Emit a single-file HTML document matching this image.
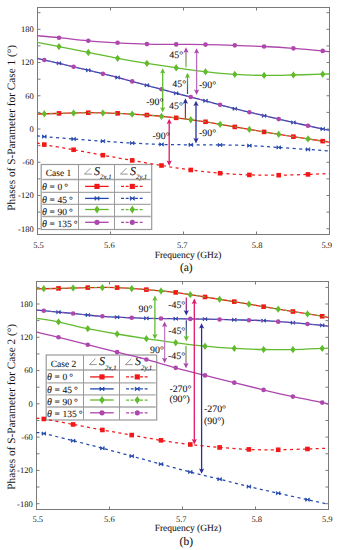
<!DOCTYPE html>
<html><head><meta charset="utf-8"><style>
html,body{margin:0;padding:0;background:#fff;width:337px;height:550px;overflow:hidden}
svg{display:block}
text{font-family:"Liberation Serif",serif;text-rendering:geometricPrecision;stroke:#222;stroke-width:0.08px}
</style></head><body>
<svg width="337" height="550" viewBox="0 0 337 550">
<rect width="337" height="550" fill="#fff"/>
<rect x="37.50" y="7.50" width="292.00" height="227.00" fill="none" stroke="#7a7a7a" stroke-width="1"/>
<path d="M37.50,12.68 h3 M329.50,12.68 h-3" stroke="#7a7a7a" stroke-width="1"/>
<path d="M37.50,29.30 h3 M329.50,29.30 h-3" stroke="#7a7a7a" stroke-width="1"/>
<text x="33.70" y="32.20" font-size="8.50" text-anchor="end" fill="#111" style="stroke:none">180</text>
<path d="M37.50,45.92 h3 M329.50,45.92 h-3" stroke="#7a7a7a" stroke-width="1"/>
<path d="M37.50,62.54 h3 M329.50,62.54 h-3" stroke="#7a7a7a" stroke-width="1"/>
<text x="33.70" y="65.44" font-size="8.50" text-anchor="end" fill="#111" style="stroke:none">120</text>
<path d="M37.50,79.16 h3 M329.50,79.16 h-3" stroke="#7a7a7a" stroke-width="1"/>
<path d="M37.50,95.78 h3 M329.50,95.78 h-3" stroke="#7a7a7a" stroke-width="1"/>
<text x="33.70" y="98.68" font-size="8.50" text-anchor="end" fill="#111" style="stroke:none">60</text>
<path d="M37.50,112.40 h3 M329.50,112.40 h-3" stroke="#7a7a7a" stroke-width="1"/>
<path d="M37.50,129.02 h3 M329.50,129.02 h-3" stroke="#7a7a7a" stroke-width="1"/>
<text x="33.70" y="131.92" font-size="8.50" text-anchor="end" fill="#111" style="stroke:none">0</text>
<path d="M37.50,145.64 h3 M329.50,145.64 h-3" stroke="#7a7a7a" stroke-width="1"/>
<path d="M37.50,162.26 h3 M329.50,162.26 h-3" stroke="#7a7a7a" stroke-width="1"/>
<text x="33.70" y="165.16" font-size="8.50" text-anchor="end" fill="#111" style="stroke:none">-60</text>
<path d="M37.50,178.88 h3 M329.50,178.88 h-3" stroke="#7a7a7a" stroke-width="1"/>
<path d="M37.50,195.50 h3 M329.50,195.50 h-3" stroke="#7a7a7a" stroke-width="1"/>
<text x="33.70" y="198.40" font-size="8.50" text-anchor="end" fill="#111" style="stroke:none">-120</text>
<path d="M37.50,212.12 h3 M329.50,212.12 h-3" stroke="#7a7a7a" stroke-width="1"/>
<path d="M37.50,228.74 h3 M329.50,228.74 h-3" stroke="#7a7a7a" stroke-width="1"/>
<text x="33.70" y="231.64" font-size="8.50" text-anchor="end" fill="#111" style="stroke:none">-180</text>
<path d="M37.50,234.50 v-3 M37.50,7.50 v3" stroke="#7a7a7a" stroke-width="1"/>
<text x="38.50" y="248.10" font-size="8.50" text-anchor="middle" fill="#111" style="stroke:none">5.5</text>
<path d="M110.50,234.50 v-3 M110.50,7.50 v3" stroke="#7a7a7a" stroke-width="1"/>
<text x="109.40" y="248.10" font-size="8.50" text-anchor="middle" fill="#111" style="stroke:none">5.6</text>
<path d="M183.50,234.50 v-3 M183.50,7.50 v3" stroke="#7a7a7a" stroke-width="1"/>
<text x="182.20" y="248.10" font-size="8.50" text-anchor="middle" fill="#111" style="stroke:none">5.7</text>
<path d="M256.50,234.50 v-3 M256.50,7.50 v3" stroke="#7a7a7a" stroke-width="1"/>
<text x="257.10" y="248.10" font-size="8.50" text-anchor="middle" fill="#111" style="stroke:none">5.8</text>
<path d="M329.50,234.50 v-3 M329.50,7.50 v3" stroke="#7a7a7a" stroke-width="1"/>
<text x="326.70" y="248.10" font-size="8.50" text-anchor="middle" fill="#111" style="stroke:none">5.9</text>
<rect x="41.20" y="164.50" width="110.50" height="65.00" fill="#fff" stroke="#999" stroke-width="1.2"/>
<path d="M42.20,179.50 H150.70" stroke="#a8a8a8" stroke-width="1.3"/>
<path d="M42.20,192.30 H150.70" stroke="#a8a8a8" stroke-width="1.3"/>
<path d="M42.20,204.40 H150.70" stroke="#a8a8a8" stroke-width="1.3"/>
<path d="M42.20,216.50 H150.70" stroke="#a8a8a8" stroke-width="1.3"/>
<path d="M78.50,164.50 V229.50 M114.50,164.50 V229.50" stroke="#9a9a9a" stroke-width="1"/>
<text x="58.50" y="176.30" font-size="9.50" text-anchor="middle" fill="#111">Case 1</text>
<text x="42.00" y="189.80" font-size="10" font-style="italic" fill="#111">θ</text>
<text x="49.50" y="189.80" font-size="9.5" fill="#111">=</text>
<text x="57.40" y="189.80" font-size="9.5" fill="#111">0</text>
<text x="64.35" y="189.80" font-size="9.5" fill="#111">°</text>
<text x="42.00" y="202.60" font-size="10" font-style="italic" fill="#111">θ</text>
<text x="49.50" y="202.60" font-size="9.5" fill="#111">=</text>
<text x="57.40" y="202.60" font-size="9.5" fill="#111">45</text>
<text x="69.10" y="202.60" font-size="9.5" fill="#111">°</text>
<text x="42.00" y="214.70" font-size="10" font-style="italic" fill="#111">θ</text>
<text x="49.50" y="214.70" font-size="9.5" fill="#111">=</text>
<text x="57.40" y="214.70" font-size="9.5" fill="#111">90</text>
<text x="69.10" y="214.70" font-size="9.5" fill="#111">°</text>
<text x="42.00" y="226.80" font-size="10" font-style="italic" fill="#111">θ</text>
<text x="49.50" y="226.80" font-size="9.5" fill="#111">=</text>
<text x="57.40" y="226.80" font-size="9.5" fill="#111">135</text>
<text x="73.85" y="226.80" font-size="9.5" fill="#111">°</text>
<path d="M90.50,168.10 L84.50,174.10 H91.70" fill="none" stroke="#7a7a7a" stroke-width="0.8"/>
<text x="94.10" y="174.80" font-size="12" font-style="italic" fill="#111">S</text>
<text x="100.10" y="179.10" font-size="6.8" font-style="italic" fill="#111">2x,1</text>
<path d="M126.50,168.10 L120.50,174.10 H127.70" fill="none" stroke="#7a7a7a" stroke-width="0.8"/>
<text x="130.10" y="174.80" font-size="12" font-style="italic" fill="#111">S</text>
<text x="136.10" y="179.10" font-size="6.8" font-style="italic" fill="#111">2y,1</text>
<path d="M85.10,186.40 H108.70" stroke="#f01818" stroke-width="1.30"/>
<rect x="94.42" y="183.82" width="5.15" height="5.15" fill="#f01818"/>
<path d="M121.10,186.40 H143.90" stroke="#f01818" stroke-width="1.25" stroke-dasharray="2.9,1.75"/>
<rect x="129.72" y="183.82" width="5.15" height="5.15" fill="#f01818"/>
<path d="M85.10,198.40 H108.70" stroke="#2349ad" stroke-width="1.30"/>
<path d="M94.98,196.50 L99.02,200.30 L99.02,196.50 L94.98,200.30 Z" fill="#2349ad" stroke="#2349ad" stroke-width="0.8" stroke-linejoin="round"/>
<path d="M121.10,198.40 H143.90" stroke="#2349ad" stroke-width="1.25" stroke-dasharray="2.9,1.75"/>
<path d="M130.28,196.50 L134.32,200.30 L134.32,196.50 L130.28,200.30 Z" fill="#2349ad" stroke="#2349ad" stroke-width="0.8" stroke-linejoin="round"/>
<path d="M85.10,209.50 H108.70" stroke="#62bb2e" stroke-width="1.30"/>
<path d="M97.00,205.36 L98.40,207.90 L99.80,209.50 L98.40,211.10 L97.00,213.64 L95.60,211.10 L94.20,209.50 L95.60,207.90 Z" fill="#62bb2e"/><circle cx="97.00" cy="209.50" r="2.24" fill="#62bb2e"/>
<path d="M121.10,209.50 H143.90" stroke="#62bb2e" stroke-width="1.25" stroke-dasharray="2.9,1.75"/>
<path d="M132.30,205.36 L133.70,207.90 L135.10,209.50 L133.70,211.10 L132.30,213.64 L130.90,211.10 L129.50,209.50 L130.90,207.90 Z" fill="#62bb2e"/><circle cx="132.30" cy="209.50" r="2.24" fill="#62bb2e"/>
<path d="M85.10,222.30 H108.70" stroke="#ad46ad" stroke-width="1.30"/>
<circle cx="97.00" cy="222.30" r="2.58" fill="#ad46ad"/>
<path d="M121.10,222.30 H143.90" stroke="#ad46ad" stroke-width="1.25" stroke-dasharray="2.9,1.75"/>
<circle cx="132.30" cy="222.30" r="2.58" fill="#ad46ad"/>
<path d="M37.00,114.00 C40.58,113.90 50.00,113.62 58.50,113.40 C67.00,113.18 78.22,112.72 88.00,112.70 C97.78,112.68 107.42,112.92 117.20,113.30 C126.98,113.68 136.90,114.25 146.70,115.00 C156.50,115.75 166.20,116.67 176.00,117.80 C185.80,118.93 195.70,120.28 205.50,121.80 C215.30,123.32 225.13,125.23 234.80,126.90 C244.47,128.57 253.82,130.18 263.50,131.80 C273.18,133.42 283.17,135.07 292.90,136.60 C302.63,138.13 315.80,140.07 321.90,141.00 C328.00,141.93 328.23,142.00 329.50,142.20" fill="none" stroke="#f01818" stroke-width="1.30"/>
<rect x="56.70" y="111.09" width="4.60" height="4.60" fill="#f01818"/>
<rect x="86.00" y="110.41" width="4.60" height="4.60" fill="#f01818"/>
<rect x="115.30" y="111.02" width="4.60" height="4.60" fill="#f01818"/>
<rect x="144.60" y="112.72" width="4.60" height="4.60" fill="#f01818"/>
<rect x="173.90" y="115.53" width="4.60" height="4.60" fill="#f01818"/>
<rect x="203.20" y="119.50" width="4.60" height="4.60" fill="#f01818"/>
<rect x="232.50" y="124.60" width="4.60" height="4.60" fill="#f01818"/>
<rect x="261.80" y="129.60" width="4.60" height="4.60" fill="#f01818"/>
<rect x="291.10" y="134.38" width="4.60" height="4.60" fill="#f01818"/>
<rect x="320.40" y="138.83" width="4.60" height="4.60" fill="#f01818"/>
<path d="M37.00,58.40 C40.67,59.22 50.50,61.33 59.00,63.30 C67.50,65.27 78.23,67.83 88.00,70.20 C97.77,72.57 107.78,74.98 117.60,77.50 C127.42,80.02 137.33,82.72 146.90,85.30 C156.47,87.88 165.23,90.42 175.00,93.00 C184.77,95.58 195.53,98.18 205.50,100.80 C215.47,103.42 225.02,106.22 234.80,108.70 C244.58,111.18 254.52,113.42 264.20,115.70 C273.88,117.98 283.28,120.22 292.90,122.40 C302.52,124.58 315.80,127.47 321.90,128.80 C328.00,130.13 328.23,130.13 329.50,130.40" fill="none" stroke="#2349ad" stroke-width="1.30"/>
<path d="M57.20,61.60 L60.80,65.00 L60.80,61.60 L57.20,65.00 Z" fill="#2349ad" stroke="#2349ad" stroke-width="0.8" stroke-linejoin="round"/>
<path d="M86.50,68.57 L90.10,71.97 L90.10,68.57 L86.50,71.97 Z" fill="#2349ad" stroke="#2349ad" stroke-width="0.8" stroke-linejoin="round"/>
<path d="M115.80,75.80 L119.40,79.20 L119.40,75.80 L115.80,79.20 Z" fill="#2349ad" stroke="#2349ad" stroke-width="0.8" stroke-linejoin="round"/>
<path d="M145.10,83.60 L148.70,87.00 L148.70,83.60 L145.10,87.00 Z" fill="#2349ad" stroke="#2349ad" stroke-width="0.8" stroke-linejoin="round"/>
<path d="M174.40,91.61 L178.00,95.01 L178.00,91.61 L174.40,95.01 Z" fill="#2349ad" stroke="#2349ad" stroke-width="0.8" stroke-linejoin="round"/>
<path d="M203.70,99.10 L207.30,102.50 L207.30,99.10 L203.70,102.50 Z" fill="#2349ad" stroke="#2349ad" stroke-width="0.8" stroke-linejoin="round"/>
<path d="M233.00,107.00 L236.60,110.40 L236.60,107.00 L233.00,110.40 Z" fill="#2349ad" stroke="#2349ad" stroke-width="0.8" stroke-linejoin="round"/>
<path d="M262.30,113.98 L265.90,117.38 L265.90,113.98 L262.30,117.38 Z" fill="#2349ad" stroke="#2349ad" stroke-width="0.8" stroke-linejoin="round"/>
<path d="M291.60,120.81 L295.20,124.21 L295.20,120.81 L291.60,124.21 Z" fill="#2349ad" stroke="#2349ad" stroke-width="0.8" stroke-linejoin="round"/>
<path d="M320.90,127.27 L324.50,130.67 L324.50,127.27 L320.90,130.67 Z" fill="#2349ad" stroke="#2349ad" stroke-width="0.8" stroke-linejoin="round"/>
<path d="M37.00,42.30 C40.67,43.02 50.50,44.92 59.00,46.60 C67.50,48.28 78.20,50.43 88.00,52.40 C97.80,54.37 108.02,56.58 117.80,58.40 C127.58,60.22 137.07,61.75 146.70,63.30 C156.33,64.85 165.85,66.30 175.60,67.70 C185.35,69.10 195.45,70.58 205.20,71.70 C214.95,72.82 224.38,73.78 234.10,74.40 C243.82,75.02 253.70,75.30 263.50,75.40 C273.30,75.50 283.17,75.20 292.90,75.00 C302.63,74.80 315.80,74.37 321.90,74.20 C328.00,74.03 328.23,74.03 329.50,74.00" fill="none" stroke="#62bb2e" stroke-width="1.30"/>
<path d="M59.00,42.90 L60.40,45.00 L61.50,46.60 L60.40,48.20 L59.00,50.30 L57.60,48.20 L56.50,46.60 L57.60,45.00 Z" fill="#62bb2e"/><circle cx="59.00" cy="46.60" r="2.00" fill="#62bb2e"/>
<path d="M88.30,48.76 L89.70,50.86 L90.80,52.46 L89.70,54.06 L88.30,56.16 L86.90,54.06 L85.80,52.46 L86.90,50.86 Z" fill="#62bb2e"/><circle cx="88.30" cy="52.46" r="2.00" fill="#62bb2e"/>
<path d="M117.60,54.66 L119.00,56.76 L120.10,58.36 L119.00,59.96 L117.60,62.06 L116.20,59.96 L115.10,58.36 L116.20,56.76 Z" fill="#62bb2e"/><circle cx="117.60" cy="58.36" r="2.00" fill="#62bb2e"/>
<path d="M146.90,59.63 L148.30,61.73 L149.40,63.33 L148.30,64.93 L146.90,67.03 L145.50,64.93 L144.40,63.33 L145.50,61.73 Z" fill="#62bb2e"/><circle cx="146.90" cy="63.33" r="2.00" fill="#62bb2e"/>
<path d="M176.20,64.08 L177.60,66.18 L178.70,67.78 L177.60,69.38 L176.20,71.48 L174.80,69.38 L173.70,67.78 L174.80,66.18 Z" fill="#62bb2e"/><circle cx="176.20" cy="67.78" r="2.00" fill="#62bb2e"/>
<path d="M205.50,68.03 L206.90,70.13 L208.00,71.73 L206.90,73.33 L205.50,75.43 L204.10,73.33 L203.00,71.73 L204.10,70.13 Z" fill="#62bb2e"/><circle cx="205.50" cy="71.73" r="2.00" fill="#62bb2e"/>
<path d="M234.80,70.72 L236.20,72.82 L237.30,74.42 L236.20,76.02 L234.80,78.12 L233.40,76.02 L232.30,74.42 L233.40,72.82 Z" fill="#62bb2e"/><circle cx="234.80" cy="74.42" r="2.00" fill="#62bb2e"/>
<path d="M264.10,71.69 L265.50,73.79 L266.60,75.39 L265.50,76.99 L264.10,79.09 L262.70,76.99 L261.60,75.39 L262.70,73.79 Z" fill="#62bb2e"/><circle cx="264.10" cy="75.39" r="2.00" fill="#62bb2e"/>
<path d="M293.40,71.29 L294.80,73.39 L295.90,74.99 L294.80,76.59 L293.40,78.69 L292.00,76.59 L290.90,74.99 L292.00,73.39 Z" fill="#62bb2e"/><circle cx="293.40" cy="74.99" r="2.00" fill="#62bb2e"/>
<path d="M322.70,70.48 L324.10,72.58 L325.20,74.18 L324.10,75.78 L322.70,77.88 L321.30,75.78 L320.20,74.18 L321.30,72.58 Z" fill="#62bb2e"/><circle cx="322.70" cy="74.18" r="2.00" fill="#62bb2e"/>
<path d="M37.00,35.70 C40.67,36.03 50.50,36.85 59.00,37.70 C67.50,38.55 78.20,39.95 88.00,40.80 C97.80,41.65 108.02,42.25 117.80,42.80 C127.58,43.35 137.07,43.83 146.70,44.10 C156.33,44.37 165.85,44.32 175.60,44.40 C185.35,44.48 195.45,44.45 205.20,44.60 C214.95,44.75 224.38,44.98 234.10,45.30 C243.82,45.62 253.70,46.00 263.50,46.50 C273.30,47.00 283.17,47.58 292.90,48.30 C302.63,49.02 315.80,50.22 321.90,50.80 C328.00,51.38 328.23,51.63 329.50,51.80" fill="none" stroke="#ad46ad" stroke-width="1.30"/>
<circle cx="59.00" cy="37.70" r="2.30" fill="#ad46ad"/>
<circle cx="88.30" cy="40.82" r="2.30" fill="#ad46ad"/>
<circle cx="117.60" cy="42.79" r="2.30" fill="#ad46ad"/>
<circle cx="146.90" cy="44.10" r="2.30" fill="#ad46ad"/>
<circle cx="176.20" cy="44.40" r="2.30" fill="#ad46ad"/>
<circle cx="205.50" cy="44.61" r="2.30" fill="#ad46ad"/>
<circle cx="234.80" cy="45.33" r="2.30" fill="#ad46ad"/>
<circle cx="264.10" cy="46.54" r="2.30" fill="#ad46ad"/>
<circle cx="293.40" cy="48.34" r="2.30" fill="#ad46ad"/>
<circle cx="322.70" cy="50.91" r="2.30" fill="#ad46ad"/>
<path d="M37.00,142.80 C38.22,143.10 38.17,143.43 44.30,144.60 C50.43,145.77 64.03,148.03 73.80,149.80 C83.57,151.57 93.15,153.43 102.90,155.20 C112.65,156.97 122.45,158.67 132.30,160.40 C142.15,162.13 152.22,164.00 162.00,165.60 C171.78,167.20 181.35,168.73 191.00,170.00 C200.65,171.27 210.27,172.38 219.90,173.20 C229.53,174.02 239.08,174.57 248.80,174.90 C258.52,175.23 268.40,175.28 278.20,175.20 C288.00,175.12 299.05,174.68 307.60,174.40 C316.15,174.12 325.85,173.65 329.50,173.50" fill="none" stroke="#f01818" stroke-width="1.25" stroke-dasharray="3,3.4"/>
<rect x="42.00" y="142.30" width="4.60" height="4.60" fill="#f01818"/>
<rect x="71.30" y="147.46" width="4.60" height="4.60" fill="#f01818"/>
<rect x="100.60" y="152.90" width="4.60" height="4.60" fill="#f01818"/>
<rect x="129.90" y="158.08" width="4.60" height="4.60" fill="#f01818"/>
<rect x="159.20" y="163.21" width="4.60" height="4.60" fill="#f01818"/>
<rect x="188.50" y="167.67" width="4.60" height="4.60" fill="#f01818"/>
<rect x="217.80" y="170.91" width="4.60" height="4.60" fill="#f01818"/>
<rect x="247.10" y="172.61" width="4.60" height="4.60" fill="#f01818"/>
<rect x="276.40" y="172.89" width="4.60" height="4.60" fill="#f01818"/>
<rect x="305.70" y="172.08" width="4.60" height="4.60" fill="#f01818"/>
<path d="M37.00,135.80 C38.22,135.93 38.30,136.07 44.30,136.60 C50.30,137.13 63.23,138.23 73.00,139.00 C82.77,139.77 93.02,140.52 102.90,141.20 C112.78,141.88 122.78,142.57 132.30,143.10 C141.82,143.63 150.48,144.12 160.00,144.40 C169.52,144.68 179.60,144.72 189.40,144.80 C199.20,144.88 208.90,144.77 218.80,144.90 C228.70,145.03 238.90,145.18 248.80,145.60 C258.70,146.02 268.40,146.77 278.20,147.40 C288.00,148.03 299.05,148.80 307.60,149.40 C316.15,150.00 325.85,150.73 329.50,151.00" fill="none" stroke="#2349ad" stroke-width="1.25" stroke-dasharray="3,3.4"/>
<path d="M42.50,134.90 L46.10,138.30 L46.10,134.90 L42.50,138.30 Z" fill="#2349ad" stroke="#2349ad" stroke-width="0.8" stroke-linejoin="round"/>
<path d="M71.80,137.34 L75.40,140.74 L75.40,137.34 L71.80,140.74 Z" fill="#2349ad" stroke="#2349ad" stroke-width="0.8" stroke-linejoin="round"/>
<path d="M101.10,139.50 L104.70,142.90 L104.70,139.50 L101.10,142.90 Z" fill="#2349ad" stroke="#2349ad" stroke-width="0.8" stroke-linejoin="round"/>
<path d="M130.40,141.39 L134.00,144.79 L134.00,141.39 L130.40,144.79 Z" fill="#2349ad" stroke="#2349ad" stroke-width="0.8" stroke-linejoin="round"/>
<path d="M159.70,142.72 L163.30,146.12 L163.30,142.72 L159.70,146.12 Z" fill="#2349ad" stroke="#2349ad" stroke-width="0.8" stroke-linejoin="round"/>
<path d="M189.00,143.10 L192.60,146.50 L192.60,143.10 L189.00,146.50 Z" fill="#2349ad" stroke="#2349ad" stroke-width="0.8" stroke-linejoin="round"/>
<path d="M218.30,143.23 L221.90,146.63 L221.90,143.23 L218.30,146.63 Z" fill="#2349ad" stroke="#2349ad" stroke-width="0.8" stroke-linejoin="round"/>
<path d="M247.60,143.94 L251.20,147.34 L251.20,143.94 L247.60,147.34 Z" fill="#2349ad" stroke="#2349ad" stroke-width="0.8" stroke-linejoin="round"/>
<path d="M276.90,145.73 L280.50,149.13 L280.50,145.73 L276.90,149.13 Z" fill="#2349ad" stroke="#2349ad" stroke-width="0.8" stroke-linejoin="round"/>
<path d="M306.20,147.73 L309.80,151.13 L309.80,147.73 L306.20,151.13 Z" fill="#2349ad" stroke="#2349ad" stroke-width="0.8" stroke-linejoin="round"/>
<path d="M37.00,114.00 C40.58,113.90 50.00,113.62 58.50,113.40 C67.00,113.18 78.22,112.72 88.00,112.70 C97.78,112.68 107.42,112.92 117.20,113.30 C126.98,113.68 136.90,114.25 146.70,115.00 C156.50,115.75 166.20,116.67 176.00,117.80 C185.80,118.93 195.70,120.28 205.50,121.80 C215.30,123.32 225.13,125.23 234.80,126.90 C244.47,128.57 253.82,130.18 263.50,131.80 C273.18,133.42 283.17,135.07 292.90,136.60 C302.63,138.13 315.80,140.07 321.90,141.00 C328.00,141.93 328.23,142.00 329.50,142.20" fill="none" stroke="#62bb2e" stroke-width="1.00" stroke-dasharray="3,3.4"/>
<path d="M44.30,110.10 L45.70,112.20 L46.80,113.80 L45.70,115.40 L44.30,117.50 L42.90,115.40 L41.80,113.80 L42.90,112.20 Z" fill="#62bb2e"/><circle cx="44.30" cy="113.80" r="2.00" fill="#62bb2e"/>
<path d="M73.60,109.34 L75.00,111.44 L76.10,113.04 L75.00,114.64 L73.60,116.74 L72.20,114.64 L71.10,113.04 L72.20,111.44 Z" fill="#62bb2e"/><circle cx="73.60" cy="113.04" r="2.00" fill="#62bb2e"/>
<path d="M102.90,109.31 L104.30,111.41 L105.40,113.01 L104.30,114.61 L102.90,116.71 L101.50,114.61 L100.40,113.01 L101.50,111.41 Z" fill="#62bb2e"/><circle cx="102.90" cy="113.01" r="2.00" fill="#62bb2e"/>
<path d="M132.20,110.46 L133.60,112.56 L134.70,114.16 L133.60,115.76 L132.20,117.86 L130.80,115.76 L129.70,114.16 L130.80,112.56 Z" fill="#62bb2e"/><circle cx="132.20" cy="114.16" r="2.00" fill="#62bb2e"/>
<path d="M161.50,112.71 L162.90,114.81 L164.00,116.41 L162.90,118.01 L161.50,120.11 L160.10,118.01 L159.00,116.41 L160.10,114.81 Z" fill="#62bb2e"/><circle cx="161.50" cy="116.41" r="2.00" fill="#62bb2e"/>
<path d="M190.80,116.11 L192.20,118.21 L193.30,119.81 L192.20,121.41 L190.80,123.51 L189.40,121.41 L188.30,119.81 L189.40,118.21 Z" fill="#62bb2e"/><circle cx="190.80" cy="119.81" r="2.00" fill="#62bb2e"/>
<path d="M220.10,120.64 L221.50,122.74 L222.60,124.34 L221.50,125.94 L220.10,128.04 L218.70,125.94 L217.60,124.34 L218.70,122.74 Z" fill="#62bb2e"/><circle cx="220.10" cy="124.34" r="2.00" fill="#62bb2e"/>
<path d="M249.40,125.69 L250.80,127.79 L251.90,129.39 L250.80,130.99 L249.40,133.09 L248.00,130.99 L246.90,129.39 L248.00,127.79 Z" fill="#62bb2e"/><circle cx="249.40" cy="129.39" r="2.00" fill="#62bb2e"/>
<path d="M278.70,130.58 L280.10,132.68 L281.20,134.28 L280.10,135.88 L278.70,137.98 L277.30,135.88 L276.20,134.28 L277.30,132.68 Z" fill="#62bb2e"/><circle cx="278.70" cy="134.28" r="2.00" fill="#62bb2e"/>
<path d="M308.00,135.19 L309.40,137.29 L310.50,138.89 L309.40,140.49 L308.00,142.59 L306.60,140.49 L305.50,138.89 L306.60,137.29 Z" fill="#62bb2e"/><circle cx="308.00" cy="138.89" r="2.00" fill="#62bb2e"/>
<path d="M37.00,58.40 C40.67,59.22 50.50,61.33 59.00,63.30 C67.50,65.27 78.23,67.83 88.00,70.20 C97.77,72.57 107.78,74.98 117.60,77.50 C127.42,80.02 137.33,82.72 146.90,85.30 C156.47,87.88 165.23,90.42 175.00,93.00 C184.77,95.58 195.53,98.18 205.50,100.80 C215.47,103.42 225.02,106.22 234.80,108.70 C244.58,111.18 254.52,113.42 264.20,115.70 C273.88,117.98 283.28,120.22 292.90,122.40 C302.52,124.58 315.80,127.47 321.90,128.80 C328.00,130.13 328.23,130.13 329.50,130.40" fill="none" stroke="#ad46ad" stroke-width="1.00" stroke-dasharray="3,3.4"/>
<circle cx="44.30" cy="60.03" r="2.30" fill="#ad46ad"/>
<circle cx="73.60" cy="66.77" r="2.30" fill="#ad46ad"/>
<circle cx="102.90" cy="73.87" r="2.30" fill="#ad46ad"/>
<circle cx="132.20" cy="81.39" r="2.30" fill="#ad46ad"/>
<circle cx="161.50" cy="89.30" r="2.30" fill="#ad46ad"/>
<circle cx="190.80" cy="97.04" r="2.30" fill="#ad46ad"/>
<circle cx="220.10" cy="104.74" r="2.30" fill="#ad46ad"/>
<circle cx="249.40" cy="112.18" r="2.30" fill="#ad46ad"/>
<circle cx="278.70" cy="119.09" r="2.30" fill="#ad46ad"/>
<circle cx="308.00" cy="125.73" r="2.30" fill="#ad46ad"/>
<path d="M162.70,71.20 V109.60" stroke="#62bb2e" stroke-width="1.3"/>
<path d="M162.70,68.20 L160.10,73.60 L162.70,72.60 L165.30,73.60 Z" fill="#62bb2e"/>
<path d="M162.70,112.60 L160.10,107.20 L162.70,108.20 L165.30,107.20 Z" fill="#62bb2e"/>
<text x="146.30" y="105.30" font-size="9.90" text-anchor="start" fill="#111">-90°</text>
<linearGradient id="g1" x1="0" y1="47.30" x2="0" y2="67.30" gradientUnits="userSpaceOnUse"><stop offset="0" stop-color="#ad46ad"/><stop offset="1" stop-color="#62bb2e"/></linearGradient>
<rect x="185.40" y="50.30" width="1.2" height="17.00" fill="url(#g1)"/>
<path d="M186.00,47.30 L183.40,52.70 L186.00,51.70 L188.60,52.70 Z" fill="#ad46ad"/>
<text x="169.30" y="58.40" font-size="9.90" text-anchor="start" fill="#111">45°</text>
<linearGradient id="g2" x1="0" y1="72.70" x2="0" y2="94.00" gradientUnits="userSpaceOnUse"><stop offset="0" stop-color="#62bb2e"/><stop offset="1" stop-color="#2349ad"/></linearGradient>
<rect x="186.90" y="75.70" width="1.2" height="18.30" fill="url(#g2)"/>
<path d="M187.50,72.70 L184.90,78.10 L187.50,77.10 L190.10,78.10 Z" fill="#62bb2e"/>
<text x="172.30" y="86.60" font-size="9.90" text-anchor="start" fill="#111">45°</text>
<linearGradient id="g3" x1="0" y1="98.30" x2="0" y2="118.70" gradientUnits="userSpaceOnUse"><stop offset="0" stop-color="#2b2f9c"/><stop offset="1" stop-color="#f01818"/></linearGradient>
<rect x="184.80" y="101.30" width="1.2" height="17.40" fill="url(#g3)"/>
<path d="M185.40,98.30 L182.80,103.70 L185.40,102.70 L188.00,103.70 Z" fill="#2b2f9c"/>
<text x="169.00" y="109.40" font-size="9.90" text-anchor="start" fill="#111">45°</text>
<path d="M196.60,51.20 V92.00" stroke="#bb6cbb" stroke-width="1.3"/>
<path d="M196.60,48.20 L194.00,53.60 L196.60,52.60 L199.20,53.60 Z" fill="#ad46ad"/>
<path d="M196.60,95.00 L194.00,89.60 L196.60,90.60 L199.20,89.60 Z" fill="#ad46ad"/>
<text x="199.00" y="88.00" font-size="9.90" text-anchor="start" fill="#111">-90°</text>
<path d="M196.00,103.70 V140.40" stroke="#2b2f9c" stroke-width="1.3"/>
<path d="M196.00,100.70 L193.40,106.10 L196.00,105.10 L198.60,106.10 Z" fill="#2b2f9c"/>
<path d="M196.00,143.40 L193.40,138.00 L196.00,139.00 L198.60,138.00 Z" fill="#2b2f9c"/>
<text x="199.00" y="136.00" font-size="9.90" text-anchor="start" fill="#111">-90°</text>
<path d="M169.20,121.70 V163.00" stroke="#e0186a" stroke-width="1.3"/>
<path d="M169.20,118.70 L166.60,124.10 L169.20,123.10 L171.80,124.10 Z" fill="#e0186a"/>
<path d="M169.20,166.00 L166.60,160.60 L169.20,161.60 L171.80,160.60 Z" fill="#e0186a"/>
<text x="152.50" y="138.60" font-size="9.90" text-anchor="start" fill="#111">-90°</text>
<text x="188.00" y="258.40" font-size="9.50" text-anchor="middle" fill="#111">Frequency (GHz)</text>
<text x="186.30" y="271.00" font-size="11.50" text-anchor="middle" fill="#111">(a)</text>
<text style="stroke:none" transform="translate(14.9,127.8) rotate(-90)" font-size="11.3" text-anchor="middle" fill="#111">Phases of S-Parameter for Case 1 (°)</text>
<rect x="36.50" y="281.50" width="292.00" height="228.00" fill="none" stroke="#7a7a7a" stroke-width="1"/>
<path d="M36.50,287.36 h3 M328.50,287.36 h-3" stroke="#7a7a7a" stroke-width="1"/>
<path d="M36.50,304.00 h3 M328.50,304.00 h-3" stroke="#7a7a7a" stroke-width="1"/>
<text x="32.70" y="306.90" font-size="8.50" text-anchor="end" fill="#111" style="stroke:none">180</text>
<path d="M36.50,320.64 h3 M328.50,320.64 h-3" stroke="#7a7a7a" stroke-width="1"/>
<path d="M36.50,337.28 h3 M328.50,337.28 h-3" stroke="#7a7a7a" stroke-width="1"/>
<text x="32.70" y="340.18" font-size="8.50" text-anchor="end" fill="#111" style="stroke:none">120</text>
<path d="M36.50,353.92 h3 M328.50,353.92 h-3" stroke="#7a7a7a" stroke-width="1"/>
<path d="M36.50,370.56 h3 M328.50,370.56 h-3" stroke="#7a7a7a" stroke-width="1"/>
<text x="32.70" y="373.46" font-size="8.50" text-anchor="end" fill="#111" style="stroke:none">60</text>
<path d="M36.50,387.20 h3 M328.50,387.20 h-3" stroke="#7a7a7a" stroke-width="1"/>
<path d="M36.50,403.84 h3 M328.50,403.84 h-3" stroke="#7a7a7a" stroke-width="1"/>
<text x="32.70" y="406.74" font-size="8.50" text-anchor="end" fill="#111" style="stroke:none">0</text>
<path d="M36.50,420.48 h3 M328.50,420.48 h-3" stroke="#7a7a7a" stroke-width="1"/>
<path d="M36.50,437.12 h3 M328.50,437.12 h-3" stroke="#7a7a7a" stroke-width="1"/>
<text x="32.70" y="440.02" font-size="8.50" text-anchor="end" fill="#111" style="stroke:none">-60</text>
<path d="M36.50,453.76 h3 M328.50,453.76 h-3" stroke="#7a7a7a" stroke-width="1"/>
<path d="M36.50,470.40 h3 M328.50,470.40 h-3" stroke="#7a7a7a" stroke-width="1"/>
<text x="32.70" y="473.30" font-size="8.50" text-anchor="end" fill="#111" style="stroke:none">-120</text>
<path d="M36.50,487.04 h3 M328.50,487.04 h-3" stroke="#7a7a7a" stroke-width="1"/>
<path d="M36.50,503.68 h3 M328.50,503.68 h-3" stroke="#7a7a7a" stroke-width="1"/>
<text x="32.70" y="506.58" font-size="8.50" text-anchor="end" fill="#111" style="stroke:none">-180</text>
<path d="M36.50,509.50 v-3 M36.50,281.50 v3" stroke="#7a7a7a" stroke-width="1"/>
<text x="37.70" y="521.70" font-size="8.50" text-anchor="middle" fill="#111" style="stroke:none">5.5</text>
<path d="M109.50,509.50 v-3 M109.50,281.50 v3" stroke="#7a7a7a" stroke-width="1"/>
<text x="109.40" y="521.70" font-size="8.50" text-anchor="middle" fill="#111" style="stroke:none">5.6</text>
<path d="M182.50,509.50 v-3 M182.50,281.50 v3" stroke="#7a7a7a" stroke-width="1"/>
<text x="181.20" y="521.70" font-size="8.50" text-anchor="middle" fill="#111" style="stroke:none">5.7</text>
<path d="M255.50,509.50 v-3 M255.50,281.50 v3" stroke="#7a7a7a" stroke-width="1"/>
<text x="256.70" y="521.70" font-size="8.50" text-anchor="middle" fill="#111" style="stroke:none">5.8</text>
<path d="M328.50,509.50 v-3 M328.50,281.50 v3" stroke="#7a7a7a" stroke-width="1"/>
<text x="327.20" y="521.70" font-size="8.50" text-anchor="middle" fill="#111" style="stroke:none">5.9</text>
<rect x="46.20" y="355.00" width="110.50" height="65.00" fill="#fff" stroke="#999" stroke-width="1.2"/>
<path d="M47.20,370.00 H155.70" stroke="#a8a8a8" stroke-width="1.3"/>
<path d="M47.20,382.80 H155.70" stroke="#a8a8a8" stroke-width="1.3"/>
<path d="M47.20,394.90 H155.70" stroke="#a8a8a8" stroke-width="1.3"/>
<path d="M47.20,407.00 H155.70" stroke="#a8a8a8" stroke-width="1.3"/>
<path d="M83.50,355.00 V420.00 M119.50,355.00 V420.00" stroke="#9a9a9a" stroke-width="1"/>
<text x="63.50" y="366.80" font-size="9.50" text-anchor="middle" fill="#111">Case 2</text>
<text x="47.00" y="380.30" font-size="10" font-style="italic" fill="#111">θ</text>
<text x="54.50" y="380.30" font-size="9.5" fill="#111">=</text>
<text x="62.40" y="380.30" font-size="9.5" fill="#111">0</text>
<text x="69.35" y="380.30" font-size="9.5" fill="#111">°</text>
<text x="47.00" y="393.10" font-size="10" font-style="italic" fill="#111">θ</text>
<text x="54.50" y="393.10" font-size="9.5" fill="#111">=</text>
<text x="62.40" y="393.10" font-size="9.5" fill="#111">45</text>
<text x="74.10" y="393.10" font-size="9.5" fill="#111">°</text>
<text x="47.00" y="405.20" font-size="10" font-style="italic" fill="#111">θ</text>
<text x="54.50" y="405.20" font-size="9.5" fill="#111">=</text>
<text x="62.40" y="405.20" font-size="9.5" fill="#111">90</text>
<text x="74.10" y="405.20" font-size="9.5" fill="#111">°</text>
<text x="47.00" y="417.30" font-size="10" font-style="italic" fill="#111">θ</text>
<text x="54.50" y="417.30" font-size="9.5" fill="#111">=</text>
<text x="62.40" y="417.30" font-size="9.5" fill="#111">135</text>
<text x="78.85" y="417.30" font-size="9.5" fill="#111">°</text>
<path d="M95.50,358.60 L89.50,364.60 H96.70" fill="none" stroke="#7a7a7a" stroke-width="0.8"/>
<text x="99.10" y="365.30" font-size="12" font-style="italic" fill="#111">S</text>
<text x="105.10" y="369.60" font-size="6.8" font-style="italic" fill="#111">2x,1</text>
<path d="M131.50,358.60 L125.50,364.60 H132.70" fill="none" stroke="#7a7a7a" stroke-width="0.8"/>
<text x="135.10" y="365.30" font-size="12" font-style="italic" fill="#111">S</text>
<text x="141.10" y="369.60" font-size="6.8" font-style="italic" fill="#111">2y,1</text>
<path d="M90.10,376.90 H113.70" stroke="#f01818" stroke-width="1.30"/>
<rect x="99.42" y="374.32" width="5.15" height="5.15" fill="#f01818"/>
<path d="M126.10,376.90 H148.90" stroke="#f01818" stroke-width="1.25" stroke-dasharray="2.9,1.75"/>
<rect x="134.72" y="374.32" width="5.15" height="5.15" fill="#f01818"/>
<path d="M90.10,388.90 H113.70" stroke="#2349ad" stroke-width="1.30"/>
<path d="M99.98,387.00 L104.02,390.80 L104.02,387.00 L99.98,390.80 Z" fill="#2349ad" stroke="#2349ad" stroke-width="0.8" stroke-linejoin="round"/>
<path d="M126.10,388.90 H148.90" stroke="#2349ad" stroke-width="1.25" stroke-dasharray="2.9,1.75"/>
<path d="M135.28,387.00 L139.32,390.80 L139.32,387.00 L135.28,390.80 Z" fill="#2349ad" stroke="#2349ad" stroke-width="0.8" stroke-linejoin="round"/>
<path d="M90.10,400.00 H113.70" stroke="#62bb2e" stroke-width="1.30"/>
<path d="M102.00,395.86 L103.40,398.40 L104.80,400.00 L103.40,401.60 L102.00,404.14 L100.60,401.60 L99.20,400.00 L100.60,398.40 Z" fill="#62bb2e"/><circle cx="102.00" cy="400.00" r="2.24" fill="#62bb2e"/>
<path d="M126.10,400.00 H148.90" stroke="#62bb2e" stroke-width="1.25" stroke-dasharray="2.9,1.75"/>
<path d="M137.30,395.86 L138.70,398.40 L140.10,400.00 L138.70,401.60 L137.30,404.14 L135.90,401.60 L134.50,400.00 L135.90,398.40 Z" fill="#62bb2e"/><circle cx="137.30" cy="400.00" r="2.24" fill="#62bb2e"/>
<path d="M90.10,412.80 H113.70" stroke="#ad46ad" stroke-width="1.30"/>
<circle cx="102.00" cy="412.80" r="2.58" fill="#ad46ad"/>
<path d="M126.10,412.80 H148.90" stroke="#ad46ad" stroke-width="1.25" stroke-dasharray="2.9,1.75"/>
<circle cx="137.30" cy="412.80" r="2.58" fill="#ad46ad"/>
<path d="M36.50,288.80 C40.17,288.73 50.00,288.60 58.50,288.40 C67.00,288.20 77.75,287.73 87.50,287.60 C97.25,287.47 107.25,287.27 117.00,287.60 C126.75,287.93 136.33,288.82 146.00,289.60 C155.67,290.38 165.33,291.10 175.00,292.30 C184.67,293.50 194.15,295.25 204.00,296.80 C213.85,298.35 224.23,299.97 234.10,301.60 C243.97,303.23 253.55,304.97 263.20,306.60 C272.85,308.23 282.22,309.80 292.00,311.40 C301.78,313.00 315.82,315.18 321.90,316.20 C327.98,317.22 327.40,317.28 328.50,317.50" fill="none" stroke="#f01818" stroke-width="1.30"/>
<rect x="56.20" y="286.10" width="4.60" height="4.60" fill="#f01818"/>
<rect x="85.50" y="285.30" width="4.60" height="4.60" fill="#f01818"/>
<rect x="114.80" y="285.31" width="4.60" height="4.60" fill="#f01818"/>
<rect x="144.10" y="287.34" width="4.60" height="4.60" fill="#f01818"/>
<rect x="173.40" y="290.11" width="4.60" height="4.60" fill="#f01818"/>
<rect x="202.70" y="294.66" width="4.60" height="4.60" fill="#f01818"/>
<rect x="232.00" y="299.33" width="4.60" height="4.60" fill="#f01818"/>
<rect x="261.30" y="304.37" width="4.60" height="4.60" fill="#f01818"/>
<rect x="290.60" y="309.24" width="4.60" height="4.60" fill="#f01818"/>
<rect x="319.90" y="313.96" width="4.60" height="4.60" fill="#f01818"/>
<path d="M36.50,310.10 C37.67,310.20 39.90,310.37 43.50,310.70 C47.10,311.03 53.28,311.65 58.10,312.10 C62.92,312.55 67.58,312.92 72.40,313.40 C77.22,313.88 82.05,314.52 87.00,315.00 C91.95,315.48 97.15,315.93 102.10,316.30 C107.05,316.67 111.83,316.95 116.70,317.20 C121.57,317.45 126.40,317.62 131.30,317.80 C136.20,317.98 138.82,318.15 146.10,318.30 C153.38,318.45 165.35,318.57 175.00,318.70 C184.65,318.83 194.15,318.92 204.00,319.10 C213.85,319.28 224.23,319.55 234.10,319.80 C243.97,320.05 253.55,320.13 263.20,320.60 C272.85,321.07 282.22,321.82 292.00,322.60 C301.78,323.38 315.82,324.70 321.90,325.30 C327.98,325.90 327.40,326.05 328.50,326.20" fill="none" stroke="#2349ad" stroke-width="1.30"/>
<path d="M56.70,310.44 L60.30,313.84 L60.30,310.44 L56.70,313.84 Z" fill="#2349ad" stroke="#2349ad" stroke-width="0.8" stroke-linejoin="round"/>
<path d="M86.00,313.37 L89.60,316.77 L89.60,313.37 L86.00,316.77 Z" fill="#2349ad" stroke="#2349ad" stroke-width="0.8" stroke-linejoin="round"/>
<path d="M115.30,315.52 L118.90,318.92 L118.90,315.52 L115.30,318.92 Z" fill="#2349ad" stroke="#2349ad" stroke-width="0.8" stroke-linejoin="round"/>
<path d="M144.60,316.60 L148.20,320.00 L148.20,316.60 L144.60,320.00 Z" fill="#2349ad" stroke="#2349ad" stroke-width="0.8" stroke-linejoin="round"/>
<path d="M173.90,317.01 L177.50,320.41 L177.50,317.01 L173.90,320.41 Z" fill="#2349ad" stroke="#2349ad" stroke-width="0.8" stroke-linejoin="round"/>
<path d="M203.20,317.42 L206.80,320.82 L206.80,317.42 L203.20,320.82 Z" fill="#2349ad" stroke="#2349ad" stroke-width="0.8" stroke-linejoin="round"/>
<path d="M232.50,318.11 L236.10,321.51 L236.10,318.11 L232.50,321.51 Z" fill="#2349ad" stroke="#2349ad" stroke-width="0.8" stroke-linejoin="round"/>
<path d="M261.80,318.93 L265.40,322.33 L265.40,318.93 L261.80,322.33 Z" fill="#2349ad" stroke="#2349ad" stroke-width="0.8" stroke-linejoin="round"/>
<path d="M291.10,320.98 L294.70,324.38 L294.70,320.98 L291.10,324.38 Z" fill="#2349ad" stroke="#2349ad" stroke-width="0.8" stroke-linejoin="round"/>
<path d="M320.40,323.64 L324.00,327.04 L324.00,323.64 L320.40,327.04 Z" fill="#2349ad" stroke="#2349ad" stroke-width="0.8" stroke-linejoin="round"/>
<path d="M36.50,318.30 C40.08,318.88 49.50,320.08 58.00,321.80 C66.50,323.52 77.67,326.57 87.50,328.60 C97.33,330.63 107.25,332.33 117.00,334.00 C126.75,335.67 136.33,337.17 146.00,338.60 C155.67,340.03 165.32,341.33 175.00,342.60 C184.68,343.87 194.25,345.23 204.10,346.20 C213.95,347.17 224.25,347.85 234.10,348.40 C243.95,348.95 253.55,349.30 263.20,349.50 C272.85,349.70 282.22,349.78 292.00,349.60 C301.78,349.42 315.82,348.67 321.90,348.40 C327.98,348.13 327.40,348.07 328.50,348.00" fill="none" stroke="#62bb2e" stroke-width="1.30"/>
<path d="M58.50,318.22 L59.90,320.32 L61.00,321.92 L59.90,323.52 L58.50,325.62 L57.10,323.52 L56.00,321.92 L57.10,320.32 Z" fill="#62bb2e"/><circle cx="58.50" cy="321.92" r="2.00" fill="#62bb2e"/>
<path d="M87.80,324.95 L89.20,327.05 L90.30,328.65 L89.20,330.25 L87.80,332.35 L86.40,330.25 L85.30,328.65 L86.40,327.05 Z" fill="#62bb2e"/><circle cx="87.80" cy="328.65" r="2.00" fill="#62bb2e"/>
<path d="M117.10,330.32 L118.50,332.42 L119.60,334.02 L118.50,335.62 L117.10,337.72 L115.70,335.62 L114.60,334.02 L115.70,332.42 Z" fill="#62bb2e"/><circle cx="117.10" cy="334.02" r="2.00" fill="#62bb2e"/>
<path d="M146.40,334.96 L147.80,337.06 L148.90,338.66 L147.80,340.26 L146.40,342.36 L145.00,340.26 L143.90,338.66 L145.00,337.06 Z" fill="#62bb2e"/><circle cx="146.40" cy="338.66" r="2.00" fill="#62bb2e"/>
<path d="M175.70,338.99 L177.10,341.09 L178.20,342.69 L177.10,344.29 L175.70,346.39 L174.30,344.29 L173.20,342.69 L174.30,341.09 Z" fill="#62bb2e"/><circle cx="175.70" cy="342.69" r="2.00" fill="#62bb2e"/>
<path d="M205.00,342.57 L206.40,344.67 L207.50,346.27 L206.40,347.87 L205.00,349.97 L203.60,347.87 L202.50,346.27 L203.60,344.67 Z" fill="#62bb2e"/><circle cx="205.00" cy="346.27" r="2.00" fill="#62bb2e"/>
<path d="M234.30,344.71 L235.70,346.81 L236.80,348.41 L235.70,350.01 L234.30,352.11 L232.90,350.01 L231.80,348.41 L232.90,346.81 Z" fill="#62bb2e"/><circle cx="234.30" cy="348.41" r="2.00" fill="#62bb2e"/>
<path d="M263.60,345.80 L265.00,347.90 L266.10,349.50 L265.00,351.10 L263.60,353.20 L262.20,351.10 L261.10,349.50 L262.20,347.90 Z" fill="#62bb2e"/><circle cx="263.60" cy="349.50" r="2.00" fill="#62bb2e"/>
<path d="M292.90,345.86 L294.30,347.96 L295.40,349.56 L294.30,351.16 L292.90,353.26 L291.50,351.16 L290.40,349.56 L291.50,347.96 Z" fill="#62bb2e"/><circle cx="292.90" cy="349.56" r="2.00" fill="#62bb2e"/>
<path d="M322.20,344.68 L323.60,346.78 L324.70,348.38 L323.60,349.98 L322.20,352.08 L320.80,349.98 L319.70,348.38 L320.80,346.78 Z" fill="#62bb2e"/><circle cx="322.20" cy="348.38" r="2.00" fill="#62bb2e"/>
<path d="M36.50,332.20 C40.08,333.02 49.50,335.03 58.00,337.10 C66.50,339.17 77.63,342.08 87.50,344.60 C97.37,347.12 107.45,349.73 117.20,352.20 C126.95,354.67 136.42,356.83 146.00,359.40 C155.58,361.97 165.02,364.97 174.70,367.60 C184.38,370.23 194.20,372.70 204.10,375.20 C214.00,377.70 224.25,380.17 234.10,382.60 C243.95,385.03 253.57,387.50 263.20,389.80 C272.83,392.10 282.22,394.30 291.90,396.40 C301.58,398.50 315.20,401.13 321.30,402.40 C327.40,403.67 327.30,403.73 328.50,404.00" fill="none" stroke="#ad46ad" stroke-width="1.30"/>
<circle cx="58.50" cy="337.23" r="2.30" fill="#ad46ad"/>
<circle cx="87.80" cy="344.68" r="2.30" fill="#ad46ad"/>
<circle cx="117.10" cy="352.17" r="2.30" fill="#ad46ad"/>
<circle cx="146.40" cy="359.51" r="2.30" fill="#ad46ad"/>
<circle cx="175.70" cy="367.86" r="2.30" fill="#ad46ad"/>
<circle cx="205.00" cy="375.42" r="2.30" fill="#ad46ad"/>
<circle cx="234.30" cy="382.65" r="2.30" fill="#ad46ad"/>
<circle cx="263.60" cy="389.89" r="2.30" fill="#ad46ad"/>
<circle cx="292.90" cy="396.60" r="2.30" fill="#ad46ad"/>
<circle cx="322.20" cy="402.60" r="2.30" fill="#ad46ad"/>
<path d="M36.50,418.40 C37.77,418.50 37.93,417.98 44.10,419.00 C50.27,420.02 63.75,422.67 73.50,424.50 C83.25,426.33 92.97,428.25 102.60,430.00 C112.23,431.75 121.73,433.30 131.30,435.00 C140.87,436.70 150.32,438.63 160.00,440.20 C169.68,441.77 179.60,443.20 189.40,444.40 C199.20,445.60 208.95,446.57 218.80,447.40 C228.65,448.23 238.77,449.00 248.50,449.40 C258.23,449.80 267.52,449.87 277.20,449.80 C286.88,449.73 298.05,449.27 306.60,449.00 C315.15,448.73 324.85,448.33 328.50,448.20" fill="none" stroke="#f01818" stroke-width="1.25" stroke-dasharray="3,3.4"/>
<rect x="41.50" y="416.68" width="4.60" height="4.60" fill="#f01818"/>
<rect x="70.80" y="422.13" width="4.60" height="4.60" fill="#f01818"/>
<rect x="100.10" y="427.66" width="4.60" height="4.60" fill="#f01818"/>
<rect x="129.40" y="432.77" width="4.60" height="4.60" fill="#f01818"/>
<rect x="158.70" y="438.04" width="4.60" height="4.60" fill="#f01818"/>
<rect x="188.00" y="442.19" width="4.60" height="4.60" fill="#f01818"/>
<rect x="217.30" y="445.15" width="4.60" height="4.60" fill="#f01818"/>
<rect x="246.60" y="447.11" width="4.60" height="4.60" fill="#f01818"/>
<rect x="275.90" y="447.47" width="4.60" height="4.60" fill="#f01818"/>
<rect x="305.20" y="446.67" width="4.60" height="4.60" fill="#f01818"/>
<path d="M36.50,432.60 C37.77,432.77 37.93,432.23 44.10,433.60 C50.27,434.97 63.75,438.35 73.50,440.80 C83.25,443.25 92.97,445.77 102.60,448.30 C112.23,450.83 121.73,453.40 131.30,456.00 C140.87,458.60 150.32,461.27 160.00,463.90 C169.68,466.53 179.60,469.28 189.40,471.80 C199.20,474.32 208.95,476.55 218.80,479.00 C228.65,481.45 238.77,484.17 248.50,486.50 C258.23,488.83 267.52,490.83 277.20,493.00 C286.88,495.17 298.05,497.63 306.60,499.50 C315.15,501.37 324.85,503.42 328.50,504.20" fill="none" stroke="#2349ad" stroke-width="1.25" stroke-dasharray="3,3.4"/>
<path d="M42.00,431.86 L45.60,435.26 L45.60,431.86 L42.00,435.26 Z" fill="#2349ad" stroke="#2349ad" stroke-width="0.8" stroke-linejoin="round"/>
<path d="M71.30,439.00 L74.90,442.40 L74.90,439.00 L71.30,442.40 Z" fill="#2349ad" stroke="#2349ad" stroke-width="0.8" stroke-linejoin="round"/>
<path d="M100.60,446.55 L104.20,449.95 L104.20,446.55 L100.60,449.95 Z" fill="#2349ad" stroke="#2349ad" stroke-width="0.8" stroke-linejoin="round"/>
<path d="M129.90,454.41 L133.50,457.81 L133.50,454.41 L129.90,457.81 Z" fill="#2349ad" stroke="#2349ad" stroke-width="0.8" stroke-linejoin="round"/>
<path d="M159.20,462.47 L162.80,465.87 L162.80,462.47 L159.20,465.87 Z" fill="#2349ad" stroke="#2349ad" stroke-width="0.8" stroke-linejoin="round"/>
<path d="M188.50,470.32 L192.10,473.72 L192.10,470.32 L188.50,473.72 Z" fill="#2349ad" stroke="#2349ad" stroke-width="0.8" stroke-linejoin="round"/>
<path d="M217.80,477.50 L221.40,480.90 L221.40,477.50 L217.80,480.90 Z" fill="#2349ad" stroke="#2349ad" stroke-width="0.8" stroke-linejoin="round"/>
<path d="M247.10,484.89 L250.70,488.29 L250.70,484.89 L247.10,488.29 Z" fill="#2349ad" stroke="#2349ad" stroke-width="0.8" stroke-linejoin="round"/>
<path d="M276.40,491.52 L280.00,494.92 L280.00,491.52 L276.40,494.92 Z" fill="#2349ad" stroke="#2349ad" stroke-width="0.8" stroke-linejoin="round"/>
<path d="M305.70,497.99 L309.30,501.39 L309.30,497.99 L305.70,501.39 Z" fill="#2349ad" stroke="#2349ad" stroke-width="0.8" stroke-linejoin="round"/>
<path d="M36.50,288.80 C40.17,288.73 50.00,288.60 58.50,288.40 C67.00,288.20 77.75,287.73 87.50,287.60 C97.25,287.47 107.25,287.27 117.00,287.60 C126.75,287.93 136.33,288.82 146.00,289.60 C155.67,290.38 165.33,291.10 175.00,292.30 C184.67,293.50 194.15,295.25 204.00,296.80 C213.85,298.35 224.23,299.97 234.10,301.60 C243.97,303.23 253.55,304.97 263.20,306.60 C272.85,308.23 282.22,309.80 292.00,311.40 C301.78,313.00 315.82,315.18 321.90,316.20 C327.98,317.22 327.40,317.28 328.50,317.50" fill="none" stroke="#62bb2e" stroke-width="1.00" stroke-dasharray="3,3.4"/>
<path d="M43.80,284.97 L45.20,287.07 L46.30,288.67 L45.20,290.27 L43.80,292.37 L42.40,290.27 L41.30,288.67 L42.40,287.07 Z" fill="#62bb2e"/><circle cx="43.80" cy="288.67" r="2.00" fill="#62bb2e"/>
<path d="M73.10,284.30 L74.50,286.40 L75.60,288.00 L74.50,289.60 L73.10,291.70 L71.70,289.60 L70.60,288.00 L71.70,286.40 Z" fill="#62bb2e"/><circle cx="73.10" cy="288.00" r="2.00" fill="#62bb2e"/>
<path d="M102.40,283.90 L103.80,286.00 L104.90,287.60 L103.80,289.20 L102.40,291.30 L101.00,289.20 L99.90,287.60 L101.00,286.00 Z" fill="#62bb2e"/><circle cx="102.40" cy="287.60" r="2.00" fill="#62bb2e"/>
<path d="M131.70,284.91 L133.10,287.01 L134.20,288.61 L133.10,290.21 L131.70,292.31 L130.30,290.21 L129.20,288.61 L130.30,287.01 Z" fill="#62bb2e"/><circle cx="131.70" cy="288.61" r="2.00" fill="#62bb2e"/>
<path d="M161.00,287.30 L162.40,289.40 L163.50,291.00 L162.40,292.60 L161.00,294.70 L159.60,292.60 L158.50,291.00 L159.60,289.40 Z" fill="#62bb2e"/><circle cx="161.00" cy="291.00" r="2.00" fill="#62bb2e"/>
<path d="M190.30,290.97 L191.70,293.07 L192.80,294.67 L191.70,296.27 L190.30,298.37 L188.90,296.27 L187.80,294.67 L188.90,293.07 Z" fill="#62bb2e"/><circle cx="190.30" cy="294.67" r="2.00" fill="#62bb2e"/>
<path d="M219.60,295.59 L221.00,297.69 L222.10,299.29 L221.00,300.89 L219.60,302.99 L218.20,300.89 L217.10,299.29 L218.20,297.69 Z" fill="#62bb2e"/><circle cx="219.60" cy="299.29" r="2.00" fill="#62bb2e"/>
<path d="M248.90,300.44 L250.30,302.54 L251.40,304.14 L250.30,305.74 L248.90,307.84 L247.50,305.74 L246.40,304.14 L247.50,302.54 Z" fill="#62bb2e"/><circle cx="248.90" cy="304.14" r="2.00" fill="#62bb2e"/>
<path d="M278.20,305.40 L279.60,307.50 L280.70,309.10 L279.60,310.70 L278.20,312.80 L276.80,310.70 L275.70,309.10 L276.80,307.50 Z" fill="#62bb2e"/><circle cx="278.20" cy="309.10" r="2.00" fill="#62bb2e"/>
<path d="M307.50,310.19 L308.90,312.29 L310.00,313.89 L308.90,315.49 L307.50,317.59 L306.10,315.49 L305.00,313.89 L306.10,312.29 Z" fill="#62bb2e"/><circle cx="307.50" cy="313.89" r="2.00" fill="#62bb2e"/>
<path d="M36.50,310.10 C37.67,310.20 39.90,310.37 43.50,310.70 C47.10,311.03 53.28,311.65 58.10,312.10 C62.92,312.55 67.58,312.92 72.40,313.40 C77.22,313.88 82.05,314.52 87.00,315.00 C91.95,315.48 97.15,315.93 102.10,316.30 C107.05,316.67 111.83,316.95 116.70,317.20 C121.57,317.45 126.40,317.62 131.30,317.80 C136.20,317.98 138.82,318.15 146.10,318.30 C153.38,318.45 165.35,318.57 175.00,318.70 C184.65,318.83 194.15,318.92 204.00,319.10 C213.85,319.28 224.23,319.55 234.10,319.80 C243.97,320.05 253.55,320.13 263.20,320.60 C272.85,321.07 282.22,321.82 292.00,322.60 C301.78,323.38 315.82,324.70 321.90,325.30 C327.98,325.90 327.40,326.05 328.50,326.20" fill="none" stroke="#ad46ad" stroke-width="1.00" stroke-dasharray="3,3.4"/>
<circle cx="43.80" cy="310.73" r="2.30" fill="#ad46ad"/>
<circle cx="73.10" cy="313.48" r="2.30" fill="#ad46ad"/>
<circle cx="102.40" cy="316.32" r="2.30" fill="#ad46ad"/>
<circle cx="131.70" cy="317.81" r="2.30" fill="#ad46ad"/>
<circle cx="161.00" cy="318.51" r="2.30" fill="#ad46ad"/>
<circle cx="190.30" cy="318.91" r="2.30" fill="#ad46ad"/>
<circle cx="219.60" cy="319.46" r="2.30" fill="#ad46ad"/>
<circle cx="248.90" cy="320.21" r="2.30" fill="#ad46ad"/>
<circle cx="278.20" cy="321.64" r="2.30" fill="#ad46ad"/>
<circle cx="307.50" cy="324.00" r="2.30" fill="#ad46ad"/>
<path d="M154.90,298.40 V336.40" stroke="#62bb2e" stroke-width="1.3"/>
<path d="M154.90,295.40 L152.30,300.80 L154.90,299.80 L157.50,300.80 Z" fill="#62bb2e"/>
<path d="M154.90,339.40 L152.30,334.00 L154.90,335.00 L157.50,334.00 Z" fill="#62bb2e"/>
<text x="138.50" y="312.40" font-size="9.90" text-anchor="start" fill="#111">90°</text>
<linearGradient id="g4" x1="0" y1="297.50" x2="0" y2="315.60" gradientUnits="userSpaceOnUse"><stop offset="0" stop-color="#e0186a"/><stop offset="1" stop-color="#2b2f9c"/></linearGradient>
<rect x="185.70" y="297.50" width="1.2" height="15.10" fill="url(#g4)"/>
<path d="M186.30,315.60 L183.70,310.20 L186.30,311.20 L188.90,310.20 Z" fill="#2b2f9c"/>
<text x="168.20" y="308.40" font-size="9.90" text-anchor="start" fill="#111">-45°</text>
<linearGradient id="g5" x1="0" y1="320.30" x2="0" y2="341.50" gradientUnits="userSpaceOnUse"><stop offset="0" stop-color="#2b2f9c"/><stop offset="1" stop-color="#62bb2e"/></linearGradient>
<rect x="185.70" y="320.30" width="1.2" height="18.20" fill="url(#g5)"/>
<path d="M186.30,341.50 L183.70,336.10 L186.30,337.10 L188.90,336.10 Z" fill="#62bb2e"/>
<text x="168.20" y="334.00" font-size="9.90" text-anchor="start" fill="#111">-45°</text>
<path d="M164.60,324.60 V360.20" stroke="#c27ec4" stroke-width="1.3"/>
<path d="M164.60,321.60 L162.00,327.00 L164.60,326.00 L167.20,327.00 Z" fill="#ad46ad"/>
<path d="M164.60,363.20 L162.00,357.80 L164.60,358.80 L167.20,357.80 Z" fill="#ad46ad"/>
<text x="150.00" y="352.60" font-size="9.90" text-anchor="start" fill="#111">90°</text>
<linearGradient id="g6" x1="0" y1="345.80" x2="0" y2="368.50" gradientUnits="userSpaceOnUse"><stop offset="0" stop-color="#62bb2e"/><stop offset="1" stop-color="#ad46ad"/></linearGradient>
<rect x="185.40" y="345.80" width="1.2" height="19.70" fill="url(#g6)"/>
<path d="M186.00,368.50 L183.40,363.10 L186.00,364.10 L188.60,363.10 Z" fill="#ad46ad"/>
<text x="168.00" y="359.00" font-size="9.90" text-anchor="start" fill="#111">-45°</text>
<path d="M194.30,301.60 V441.40" stroke="#e0186a" stroke-width="1.3"/>
<path d="M194.30,298.60 L191.70,304.00 L194.30,303.00 L196.90,304.00 Z" fill="#e0186a"/>
<path d="M194.30,444.40 L191.70,439.00 L194.30,440.00 L196.90,439.00 Z" fill="#e0186a"/>
<text x="169.40" y="392.20" font-size="9.90" text-anchor="start" fill="#111">-270°</text>
<text x="169.40" y="402.30" font-size="9.90" text-anchor="start" fill="#111">(90°)</text>
<path d="M201.60,326.20 V470.80" stroke="#2b2f9c" stroke-width="1.3"/>
<path d="M201.60,323.20 L199.00,328.60 L201.60,327.60 L204.20,328.60 Z" fill="#2b2f9c"/>
<path d="M201.60,473.80 L199.00,468.40 L201.60,469.40 L204.20,468.40 Z" fill="#2b2f9c"/>
<text x="204.00" y="412.40" font-size="9.90" text-anchor="start" fill="#111">-270°</text>
<text x="204.00" y="424.20" font-size="9.90" text-anchor="start" fill="#111">(90°)</text>
<text x="188.00" y="530.90" font-size="9.50" text-anchor="middle" fill="#111">Frequency (GHz)</text>
<text x="186.30" y="545.00" font-size="11.50" text-anchor="middle" fill="#111">(b)</text>
<text style="stroke:none" transform="translate(14.9,406.8) rotate(-90)" font-size="11.3" text-anchor="middle" fill="#111">Phases of S-Parameter for Case 2 (°)</text>
</svg></body></html>
